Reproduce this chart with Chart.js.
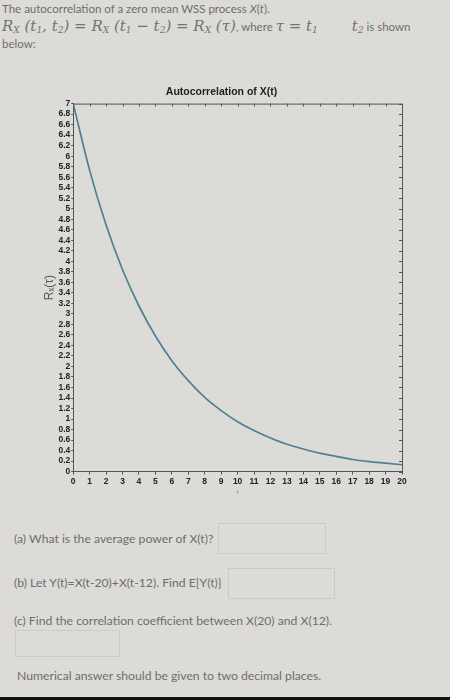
<!DOCTYPE html>
<html>
<head>
<meta charset="utf-8">
<script src="https://cdn.jsdelivr.net/npm/chart.js@4.4.1/dist/chart.umd.min.js"></script>
<style>
  body { margin: 0; width: 450px; height: 700px; overflow: hidden; position: relative;
         background: #dcdbd7; font-family: Lato, "Open Sans", sans-serif; color: #6e6e6e; }
  .txt { position: absolute; font-size: 11.5px; white-space: nowrap; }
  .q { font-size: 12.2px; }
  .math { font-family: "DejaVu Serif", "Liberation Serif", serif; font-style: italic; font-size: 15px; color: #727272; }
  .math sub { font-size: 9px; vertical-align: -2px; }
  .box { position: absolute; border: 1px solid #cbcac6; background: #dddcd9; }
  #wrap { position: absolute; left: 30px; top: 80px; width: 444px; height: 420px; }
  #strip { position: absolute; left: 0; bottom: 0; width: 450px; height: 3px; background: #111; }
</style>
</head>
<body>
<div class="txt" style="left:2px; top:2px;">The autocorrelation of a zero mean WSS process <i>X</i>(<i>t</i>).</div>
<div class="txt" style="left:2px; top:17px;"><span class="math">R<sub>X</sub> (t<sub>1</sub>, t<sub>2</sub>) = R<sub>X</sub> (t<sub>1</sub> − t<sub>2</sub>) = R<sub>X</sub> (τ)</span>, where <span class="math">τ = t<sub>1</sub></span><span style="display:inline-block; width:34px"></span><span class="math">t<sub>2</sub></span> is shown</div>
<div class="txt" style="left:2px; top:37px;">below:</div>

<div id="wrap"><canvas id="lineGraph"></canvas></div>

<div class="txt q" style="left:14px; top:531px;">(a) What is the average power of X(t)?</div>
<div class="box" style="left:218px; top:523px; width:106px; height:29px;"></div>
<div class="txt q" style="left:14px; top:575px;">(b) Let Y(t)=X(t-20)+X(t-12). Find E[Y(t)]</div>
<div class="box" style="left:228px; top:568px; width:105px; height:29px;"></div>
<div class="txt q" style="left:14px; top:613px;">(c) Find the correlation coefficient between X(20) and X(12).</div>
<div class="box" style="left:15px; top:630px; width:103px; height:25px;"></div>
<div class="txt q" style="left:17px; top:668px;">Numerical answer should be given to two decimal places.</div>
<div id="strip"></div>

<script>
var tauValues = [0, 1, 2, 3, 4, 5, 6, 7, 8, 9, 10, 11, 12, 13, 14, 15, 16, 17, 18, 19, 20];
var rxValues = [7.0, 5.73, 4.69, 3.84, 3.15, 2.58, 2.11, 1.73, 1.41, 1.16, 0.95,
                0.78, 0.64, 0.52, 0.43, 0.35, 0.29, 0.23, 0.19, 0.16, 0.13];
var chartTitle = "Autocorrelation of X(t)";

// box around the plot with small inward ticks on top and right
var frame = {
    id: 'frame',
    afterDraw: function(chart) {
        var c = chart.ctx, a = chart.chartArea;
        var xs = chart.scales.x, ys = chart.scales.y;
        c.save();
        c.strokeStyle = '#555';
        c.lineWidth = 1;
        c.beginPath();
        c.moveTo(a.left, a.top + 0.5); c.lineTo(a.right + 0.5, a.top + 0.5);
        c.lineTo(a.right + 0.5, a.bottom);
        xs.ticks.forEach(function(t) {
            var px = Math.round(xs.getPixelForValue(t.value)) + 0.5;
            c.moveTo(px, a.top); c.lineTo(px, a.top + 3);
        });
        ys.ticks.forEach(function(t) {
            var py = Math.round(ys.getPixelForValue(t.value)) + 0.5;
            c.moveTo(a.right, py); c.lineTo(a.right - 3, py);
        });
        c.stroke();
        c.restore();
    }
};

var points = tauValues.map(function(t, i) { return {x: t, y: rxValues[i]}; });

var ctx = document.getElementById("lineGraph").getContext("2d");
var lineChart = new Chart(ctx, {
    type: 'line',
    data: {
        datasets: [{
            data: points,
            borderColor: '#4d8196',
            borderWidth: 1.7,
            pointRadius: 0,
            cubicInterpolationMode: 'monotone',
            fill: false
        }]
    },
    options: {
        responsive: true,
        maintainAspectRatio: false,
        animation: false,
        layout: { padding: { left: 11, right: 72, top: 0, bottom: 4 } },
        plugins: {
            legend: { display: false },
            tooltip: { enabled: false },
            title: {
                display: true,
                text: chartTitle,
                color: '#1e1e1e',
                font: { family: 'Liberation Sans', size: 10.5, weight: 'bold' },
                padding: { top: 6, bottom: 5 }
            }
        },
        scales: {
            x: {
                type: 'linear',
                min: 0, max: 20,
                grid: { drawOnChartArea: false, tickLength: 3, color: '#555' },
                border: { color: '#555' },
                ticks: { stepSize: 1, autoSkip: false, maxRotation: 0, padding: 2,
                         color: '#222', font: { family: 'Liberation Sans', size: 8.5, weight: 'bold' } },
                title: { display: true, text: 'τ', color: '#777', font: { size: 6 }, padding: 0 }
            },
            y: {
                min: 0, max: 7,
                grid: { drawOnChartArea: false, tickLength: 2, color: '#555' },
                border: { color: '#555' },
                ticks: { stepSize: 0.2, autoSkip: false, padding: 1,
                         color: '#222', font: { family: 'Liberation Sans', size: 8.5, weight: 'bold' },
                         callback: function(v) { return String(Math.round(v * 10) / 10); } },
                title: { display: true, text: 'Rₓ(τ)', color: '#555',
                         font: { family: 'Liberation Sans', size: 12 }, padding: 1 }
            }
        }
    },
    plugins: [frame]
});
</script>
</body>
</html>
